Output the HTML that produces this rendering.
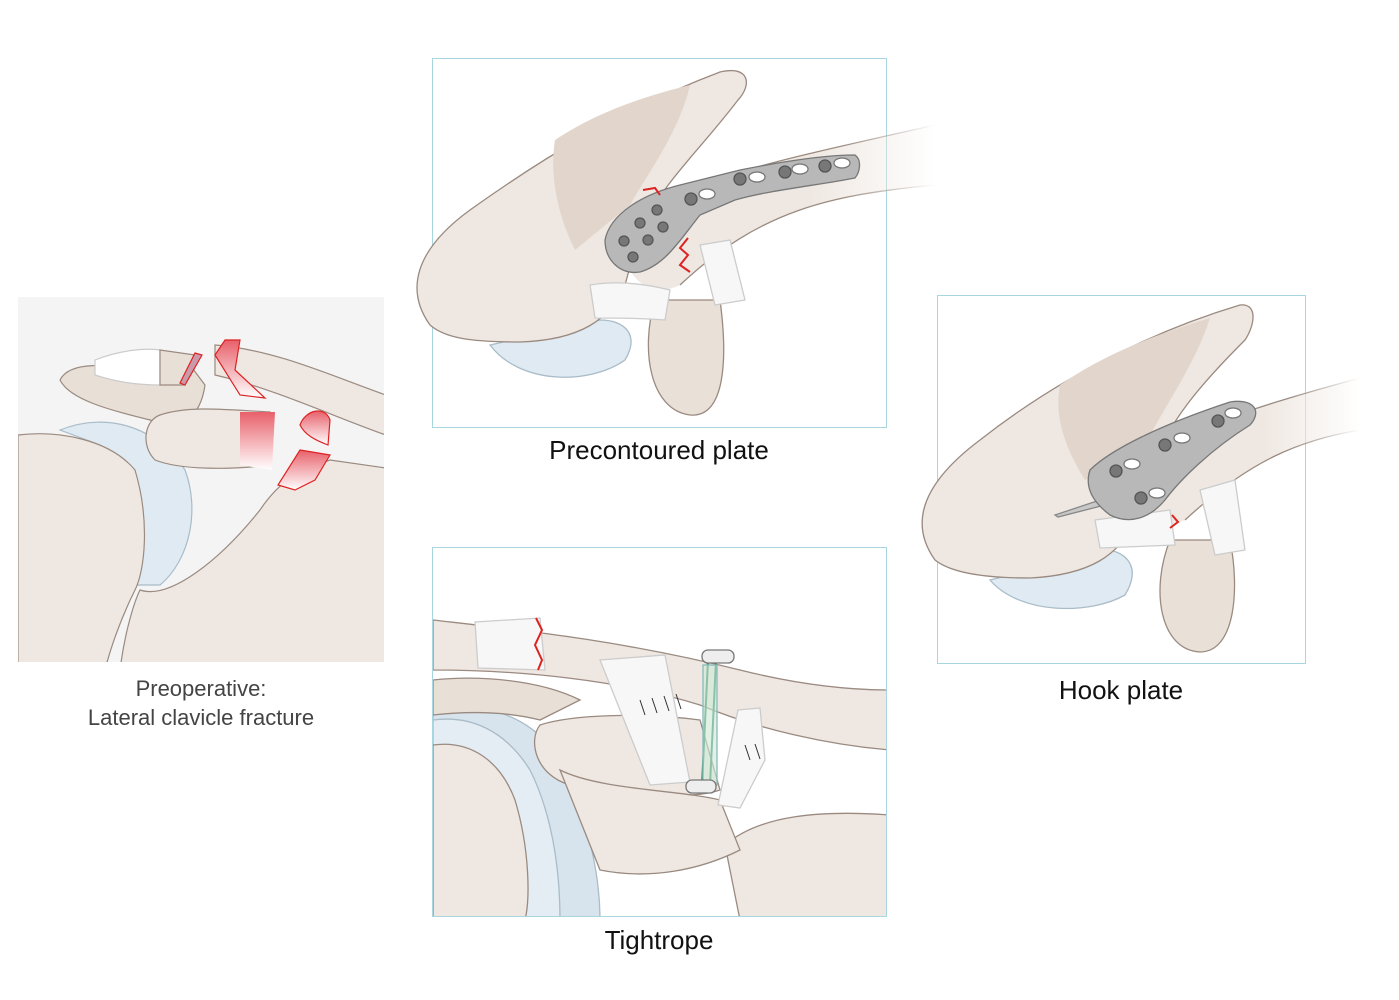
<!DOCTYPE html>
<html><head><meta charset="utf-8"><style>
html,body{margin:0;padding:0;background:#fff;width:1399px;height:1000px;overflow:hidden}
svg{display:block}
text{font-family:"Liberation Sans",sans-serif}
</style></head><body>
<svg width="1399" height="1000" viewBox="0 0 1399 1000">
<defs>
<linearGradient id="fadeR" x1="0" x2="1"><stop offset="0.6" stop-color="#efe8e2"/><stop offset="1" stop-color="#efe8e2" stop-opacity="0"/></linearGradient>
<linearGradient id="fadeS" x1="0" x2="1"><stop offset="0.7" stop-color="#9a8a80"/><stop offset="1" stop-color="#9a8a80" stop-opacity="0"/></linearGradient>
<linearGradient id="red" x1="0" y1="0" x2="0" y2="1"><stop offset="0" stop-color="#e8606a"/><stop offset="1" stop-color="#fff"/></linearGradient>
<clipPath id="cL"><rect x="18" y="297" width="366" height="365"/></clipPath>
<clipPath id="cB"><rect x="433" y="548" width="453" height="368"/></clipPath>
</defs>

<!-- LEFT PANEL -->
<rect x="18" y="297" width="366" height="365" fill="#f4f4f4"/>
<g clip-path="url(#cL)" stroke="#9a8a80" stroke-width="1.2">
 <path d="M300,520 C330,490 360,485 400,478 L400,670 L230,670 Z" fill="#efe8e2"/>
 <path d="M285,505 C300,520 320,520 330,500" fill="#e6ddd5"/>
 <path d="M60,380 C70,360 110,365 140,370 L190,365 L205,385 C200,420 180,430 150,420 C110,410 70,400 60,380Z" fill="#e8dfd7"/>
 <path d="M60,430 C110,410 160,430 185,470 C200,510 190,560 160,585 L130,585 C150,540 150,480 100,445 Z" fill="#dfeaf2" stroke="#a9bcc8"/>
 <path d="M140,590 C170,600 220,560 260,510 C280,480 300,470 330,460 L400,470 L400,670 L120,670 C125,630 135,600 140,590Z" fill="#efe8e2"/>
 <path d="M18,435 C60,430 110,440 135,470 C150,520 145,570 135,590 C120,620 110,650 105,670 L18,670 Z" fill="#efe8e2"/>
 <path d="M215,345 C280,350 340,380 400,400 L400,440 C340,420 280,390 215,375Z" fill="#efe8e2"/>
 <path d="M160,415 C190,405 230,410 270,412 L270,465 C230,470 180,470 155,460 C140,445 145,420 160,415Z" fill="#efe8e2"/>
 <path d="M95,360 C120,350 145,348 160,350 L160,385 C130,385 110,380 95,375Z" fill="#fff" stroke="#ccc"/>
 <path d="M160,350 L195,355 L185,385 L160,385Z" fill="#e8dfd7"/>
 <path d="M185,385 L202,355 L195,353 L180,383Z" fill="#c9a" stroke="#d22"/>
 <path d="M215,355 L225,340 L240,340 L235,370 L265,398 L240,395 Z" fill="url(#red)" stroke="#d22"/>
 <path d="M240,412 L275,412 L272,470 L240,465Z" fill="url(#red)" stroke="none"/>
 <path d="M300,425 C305,410 325,405 330,420 L328,445 C315,440 305,435 300,425Z" fill="url(#red)" stroke="#d22"/>
 <path d="M300,450 L330,455 L315,480 L295,490 L278,485Z" fill="url(#red)" stroke="#d22"/>
</g>
<text x="201" y="696" font-size="22" fill="#444" text-anchor="middle">Preoperative:</text>
<text x="201" y="725" font-size="22" fill="#444" text-anchor="middle">Lateral clavicle fracture</text>

<!-- TOP MIDDLE -->
<rect x="432.5" y="58.5" width="454" height="369" fill="none" stroke="#a8d6e0"/>
<g stroke="#9a8a80" stroke-width="1.3">
 <path d="M490,345 C520,385 590,385 625,360 C640,335 625,320 600,320 Z" fill="#dfeaf2" stroke="#a9bcc8"/>
 <path d="M655,300 C640,350 650,410 690,415 C725,418 728,360 720,300 Z" fill="#e9e0d8"/>
 <path d="M620,225 C680,180 780,160 935,125 L935,185 C830,195 760,210 680,285 C650,300 620,280 620,225Z" fill="url(#fadeR)" stroke="none"/>
 <path d="M620,225 C680,180 780,160 935,125 M935,185 C830,195 760,210 680,285" fill="none" stroke="url(#fadeS)"/>
 <path d="M430,325 C405,290 415,250 470,210 C540,160 620,110 720,72 C750,65 752,85 738,100 C700,150 665,180 640,230 L625,285 C610,320 580,340 520,342 C470,342 445,338 430,325Z" fill="#efe8e2"/>
 <path d="M555,140 C600,110 650,95 690,85 C680,130 650,170 630,205 L575,250 C555,210 550,170 555,140Z" fill="#e2d6cc" stroke="none"/>
 <path d="M590,285 C620,280 650,285 670,290 L665,320 C640,318 610,318 595,318Z" fill="#f7f7f7" stroke="#ccc"/>
 <path d="M700,245 L730,240 L745,300 L715,305Z" fill="#f7f7f7" stroke="#ccc"/>
 <path d="M605,240 C610,215 640,195 680,185 L740,170 C790,160 830,155 855,155 C862,160 860,172 855,178 C820,185 770,190 735,200 L700,215 C680,240 665,265 640,272 C620,275 605,260 605,240Z" fill="#b8b8b8" stroke="#777"/>
 <g fill="#777" stroke="#555">
 <circle cx="624" cy="241" r="5"/><circle cx="640" cy="223" r="5"/><circle cx="657" cy="210" r="5"/><circle cx="648" cy="240" r="5"/><circle cx="663" cy="227" r="5"/><circle cx="633" cy="257" r="5"/><circle cx="691" cy="199" r="6"/><circle cx="740" cy="179" r="6"/><circle cx="785" cy="172" r="6"/><circle cx="825" cy="166" r="6"/></g>
 <g fill="#fff" stroke="#777"><ellipse cx="707" cy="194" rx="8" ry="5"/><ellipse cx="757" cy="177" rx="8" ry="5"/><ellipse cx="800" cy="169" rx="8" ry="5"/><ellipse cx="842" cy="163" rx="8" ry="5"/></g>
 <path d="M643,190 L655,188 L660,195" fill="none" stroke="#d22" stroke-width="2"/>
 <path d="M688,238 L680,248 L688,255 L680,265 L690,272" fill="none" stroke="#d22" stroke-width="2"/>
</g>
<text x="659" y="459" font-size="26" fill="#111" text-anchor="middle">Precontoured plate</text>

<!-- RIGHT -->
<rect x="937.5" y="295.5" width="368" height="368" fill="none" stroke="#a8d6e0"/>
<g stroke="#9a8a80" stroke-width="1.3">
 <path d="M990,580 C1020,615 1090,615 1125,595 C1140,570 1130,555 1110,550 Z" fill="#dfeaf2" stroke="#a9bcc8"/>
 <path d="M1170,540 C1150,590 1160,650 1200,652 C1235,652 1240,590 1230,540 Z" fill="#e9e0d8"/>
 <path d="M1120,470 C1180,430 1260,405 1360,378 L1360,430 C1300,440 1250,460 1185,520 C1150,535 1120,510 1120,470Z" fill="url(#fadeR)" stroke="none"/>
 <path d="M1120,470 C1180,430 1260,405 1360,378 M1360,430 C1300,440 1250,460 1185,520" fill="none" stroke="url(#fadeS)"/>
 <path d="M935,560 C910,525 920,485 980,440 C1050,385 1140,335 1240,305 C1258,303 1255,325 1245,340 C1200,385 1170,420 1150,470 L1135,520 C1120,555 1090,575 1030,578 C980,578 950,572 935,560Z" fill="#efe8e2"/>
 <path d="M1060,385 C1110,350 1170,330 1210,318 C1195,365 1165,405 1145,445 L1085,480 C1060,440 1055,410 1060,385Z" fill="#e2d6cc" stroke="none"/>
 <path d="M1095,520 L1170,510 L1175,545 L1100,548Z" fill="#f7f7f7" stroke="#ccc"/>
 <path d="M1200,490 L1235,480 L1245,550 L1215,555Z" fill="#f7f7f7" stroke="#ccc"/>
 <path d="M1055,515 L1100,500 L1105,505 L1058,517Z" fill="#c8c8c8" stroke="#888"/>
 <path d="M1090,470 C1110,450 1160,425 1230,402 C1255,398 1262,412 1250,425 C1210,450 1180,480 1165,500 C1150,518 1130,525 1110,515 C1090,500 1085,485 1090,470Z" fill="#b8b8b8" stroke="#777"/>
 <g fill="#777" stroke="#555"><circle cx="1116" cy="471" r="6"/><circle cx="1165" cy="445" r="6"/><circle cx="1218" cy="421" r="6"/><circle cx="1141" cy="498" r="6"/></g>
 <g fill="#fff" stroke="#777"><ellipse cx="1132" cy="464" rx="8" ry="5"/><ellipse cx="1182" cy="438" rx="8" ry="5"/><ellipse cx="1233" cy="413" rx="8" ry="5"/><ellipse cx="1157" cy="493" rx="8" ry="5"/></g>
 <path d="M1172,515 L1178,522 L1170,528" fill="none" stroke="#d22" stroke-width="2"/>
</g>
<text x="1121" y="699" font-size="26" fill="#111" text-anchor="middle">Hook plate</text>

<!-- BOTTOM -->
<g clip-path="url(#cB)" stroke="#9a8a80" stroke-width="1.3">
 <path d="M725,845 C760,815 820,810 890,815 L890,920 L740,920Z" fill="#efe8e2"/>
 <path d="M433,710 C470,700 530,710 560,760 C590,820 600,880 600,920 L433,920Z" fill="#d8e4ed" stroke="#a9bcc8"/>
 <path d="M433,720 C470,715 505,730 530,770 C555,820 560,880 560,920 L433,920Z" fill="#e4edf4" stroke="#a9bcc8"/>
 <path d="M433,745 C470,740 500,760 515,800 C530,850 530,900 525,920 L433,920Z" fill="#efe8e2"/>
 <path d="M433,620 C520,630 620,640 740,670 C800,685 850,690 890,690 L890,750 C830,745 760,730 700,705 C620,680 520,670 433,670Z" fill="#efe8e2"/>
 <path d="M433,680 C480,675 540,680 580,700 L540,720 C500,710 460,712 433,715Z" fill="#e8dfd7"/>
 <path d="M540,725 C570,715 640,712 700,720 L720,790 C690,800 640,795 570,785 C535,775 528,740 540,725Z" fill="#efe8e2"/>
 <path d="M560,770 C600,790 680,790 720,800 L740,850 C700,870 650,880 600,870 Z" fill="#efe8e2"/>
 <path d="M475,622 L540,618 L545,670 L478,668Z" fill="#f7f7f7" stroke="#ccc"/>
 <path d="M600,660 L665,655 L690,782 L650,785Z" fill="#f7f7f7" stroke="#ccc"/>
 <path d="M738,710 L760,708 L765,760 L740,808 L718,805Z" fill="#f7f7f7" stroke="#ccc"/>
 <path d="M536,618 L542,630 L535,645 L542,660 L538,670" fill="none" stroke="#d22" stroke-width="2"/>
 <path d="M708,660 L702,785 M716,660 L710,785" stroke="#2a8a5a" stroke-width="2"/>
 <rect x="703" y="665" width="14" height="120" fill="#cde8d8" fill-opacity="0.6" stroke="#8bb"/>
 <rect x="702" y="650" width="32" height="13" rx="6" fill="#eee" stroke="#777"/>
 <rect x="686" y="780" width="30" height="13" rx="6" fill="#eee" stroke="#777"/>
 <g fill="none" stroke="#333" stroke-width="1"><path d="M640,700 l5,15 M652,698 l5,15 M664,696 l5,15 M676,694 l5,15 M745,745 l5,15 M755,744 l5,15"/></g>
</g>
<rect x="432.5" y="547.5" width="454" height="369" fill="none" stroke="#a8d6e0"/>
<text x="659" y="949" font-size="26" fill="#111" text-anchor="middle">Tightrope</text>
</svg>
</body></html>
